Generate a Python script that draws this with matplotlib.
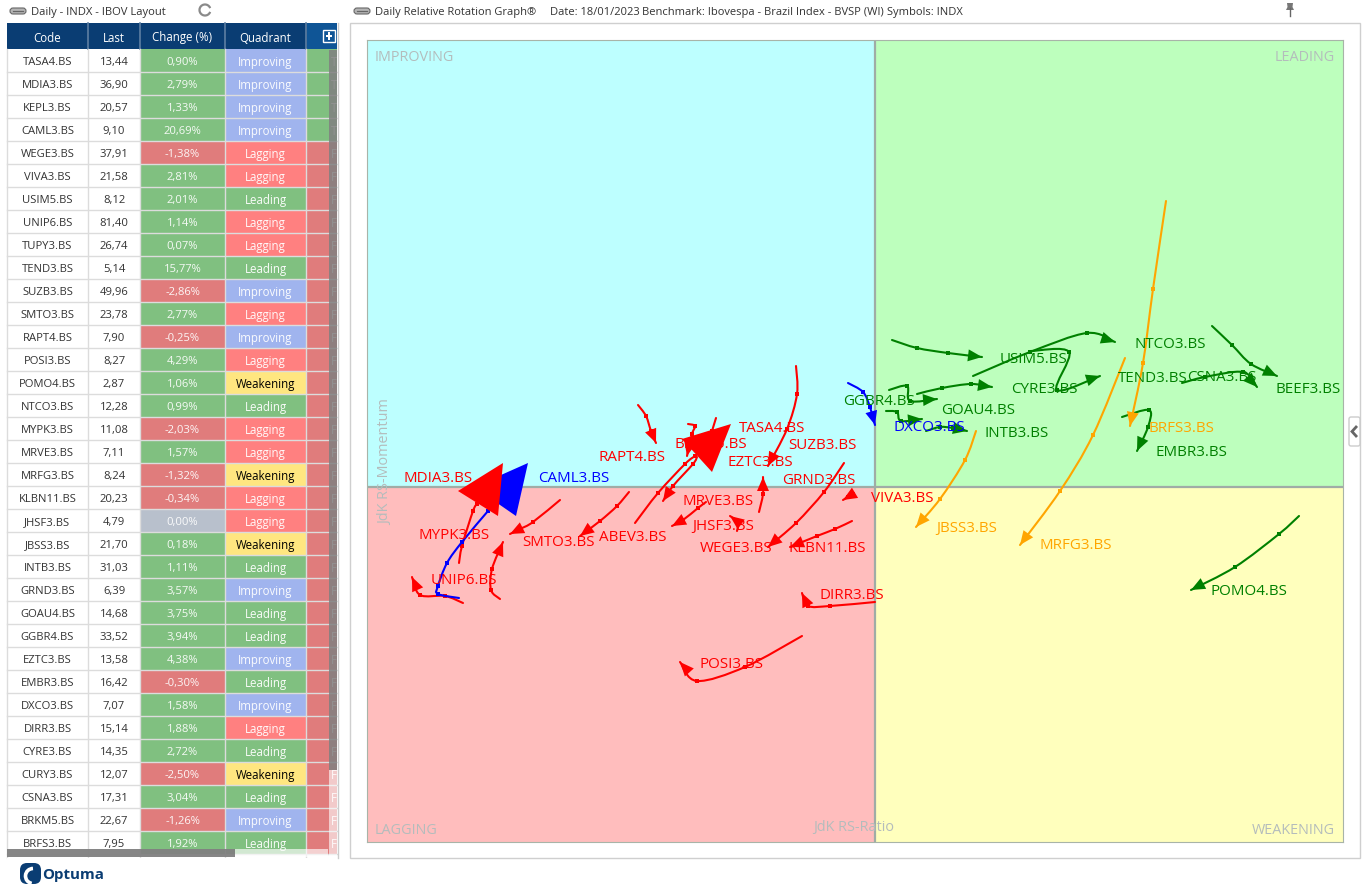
import matplotlib
matplotlib.use("Agg")
import matplotlib.pyplot as plt
from matplotlib.patches import Rectangle, FancyBboxPatch, PathPatch, Arc, Circle, Polygon
from matplotlib.path import Path
import numpy as np

plt.rcParams['font.family'] = ['Open Sans', 'DejaVu Sans']

# ---------- table data ----------
codes = ["TASA4.BS","MDIA3.BS","KEPL3.BS","CAML3.BS","WEGE3.BS","VIVA3.BS","USIM5.BS","UNIP6.BS","TUPY3.BS","TEND3.BS",
         "SUZB3.BS","SMTO3.BS","RAPT4.BS","POSI3.BS","POMO4.BS","NTCO3.BS","MYPK3.BS","MRVE3.BS","MRFG3.BS","KLBN11.BS",
         "JHSF3.BS","JBSS3.BS","INTB3.BS","GRND3.BS","GOAU4.BS","GGBR4.BS","EZTC3.BS","EMBR3.BS","DXCO3.BS","DIRR3.BS",
         "CYRE3.BS","CURY3.BS","CSNA3.BS","BRKM5.BS","BRFS3.BS"]
last = ["13,44","36,90","20,57","9,10","37,91","21,58","8,12","81,40","26,74","5,14",
        "49,96","23,78","7,90","8,27","2,87","12,28","11,08","7,11","8,24","20,23",
        "4,79","21,70","31,03","6,39","14,68","33,52","13,58","16,42","7,07","15,14",
        "14,35","12,07","17,31","22,67","7,95"]
change = [0.90,2.79,1.33,20.69,-1.38,2.81,2.01,1.14,0.07,15.77,
          -2.86,2.77,-0.25,4.29,1.06,0.99,-2.03,1.57,-1.32,-0.34,
          0.00,0.18,1.11,3.57,3.75,3.94,4.38,-0.30,1.58,1.88,
          2.72,-2.50,3.04,-1.26,1.92]
quadrant = ["Improving","Improving","Improving","Improving","Lagging","Lagging","Leading","Lagging","Lagging","Leading",
            "Improving","Lagging","Improving","Lagging","Weakening","Leading","Lagging","Lagging","Weakening","Lagging",
            "Lagging","Weakening","Leading","Improving","Leading","Leading","Improving","Leading","Improving","Lagging",
            "Leading","Weakening","Leading","Improving","Leading"]
flag = ["T"]*4 + ["F"]*31
headers = ["Code","Last","Change (%)","Quadrant"]
title_parts = ["Daily Relative Rotation Graph®","Date: 18/01/2023","Benchmark: Ibovespa - Brazil Index - BVSP (WI)","Symbols: INDX"]

# ---------- RRG labels ----------
label_names = ["MDIA3.BS","CAML3.BS","RAPT4.BS","BRKM5.BS","TASA4.BS","SUZB3.BS","EZTC3.BS","GRND3.BS","VIVA3.BS","MRVE3.BS",
               "JHSF3.BS","SMTO3.BS","ABEV3.BS","MYPK3.BS","UNIP6.BS","WEGE3.BS","KLBN11.BS","DIRR3.BS","POSI3.BS","JBSS3.BS",
               "MRFG3.BS","POMO4.BS","BRFS3.BS","EMBR3.BS","BEEF3.BS","CSNA3.BS","TEND3.BS","NTCO3.BS","USIM5.BS","CYRE3.BS",
               "GOAU4.BS","INTB3.BS","GGBR4.BS","DXCO3.BS"]
label_x = [95.29,96.63,97.24,98.00,98.64,99.13,98.53,99.07,99.96,98.08,
           98.17,96.47,97.24,95.44,95.56,98.25,99.14,99.45,98.25,100.61,
           101.65,103.36,102.74,102.81,104.01,103.12,102.43,102.60,101.25,101.36,
           100.66,101.10,99.68,100.19]
label_y = [100.11,100.11,100.32,100.45,100.61,100.44,100.27,100.09,99.91,99.88,
           99.63,99.47,99.52,99.54,99.09,99.41,99.41,98.94,98.25,99.61,
           99.44,98.98,100.61,100.37,101.00,101.12,101.11,101.45,101.30,101.00,
           100.79,100.56,100.88,100.62]
label_colors = ["red","blue","red","red","red","red","red","red","red","red",
                "red","red","red","red","red","red","red","red","red","orange",
                "orange","green","orange","green","green","green","green","green","green","green",
                "green","green","green","blue"]

# ---------- RRG tails (RS-Ratio, RS-Momentum) ----------
RAPT4 = ([97.63,97.71,97.76,97.81],[100.82,100.71,100.56,100.44])
SMTO3 = ([96.85,96.58,96.45,96.35],[99.87,99.65,99.58,99.53])
UNIP6 = ([96.25,96.16,96.17,96.28],[98.88,98.97,99.18,99.45])
MYPK3 = ([95.88,95.70,95.45,95.37],[98.84,98.91,98.92,99.10])
ABEV3 = ([97.54,97.42,97.25,97.05],[99.95,99.81,99.66,99.51])
MRVE3 = ([98.22,98.18,97.98,97.88],[100.30,100.23,100.01,99.86])
KEPL3 = ([98.31,98.23,98.08,97.97],[99.85,99.79,99.67,99.61])
BRKM5 = ([98.13,98.20,98.17,98.12],[100.63,100.61,100.53,100.31])
SUZB3 = ([99.21,99.22,99.12,98.93],[101.21,100.93,100.58,100.21])
EZTC3 = ([98.84,98.88,98.88],[99.75,99.93,100.10])
GRND3 = ([99.69,99.49,99.21,98.93],[100.24,99.95,99.64,99.40])
KLBN11 = ([99.77,99.60,99.42,99.15],[99.66,99.58,99.51,99.40])
VIVA3 = ([99.79,99.73,99.68],[99.94,99.90,99.87])
JHSF3 = ([98.62,98.63,98.55],[99.56,99.65,99.71])
DIRR3 = ([100.00,99.55,99.33,99.27],[98.85,98.81,98.81,98.94])
POSI3 = ([99.27,98.70,98.22,98.05],[98.51,98.20,98.06,98.25])
DXCO3 = ([99.73,99.88,99.95,100.00],[101.04,100.95,100.80,100.62])
GGBR4 = ([100.14,100.32,100.35,100.62],[100.97,101.01,100.86,100.88])
GOAU4 = ([100.42,100.67,100.96,101.17],[100.93,100.99,101.03,101.00])
USIM5 = ([100.17,100.42,100.73,101.07],[101.47,101.39,101.34,101.30])
NTCO3 = ([100.98,101.55,102.12,102.40],[101.11,101.35,101.54,101.45])
CYRE3 = ([101.56,101.94,101.82,102.25],[101.36,101.35,100.97,101.11])
CURY3 = ([100.11,100.22,100.26,100.47],[100.76,100.75,100.66,100.68])
INTB3 = ([100.51,100.65,100.78,100.92],[100.56,100.60,100.59,100.56])
JBSS3 = ([101.01,100.90,100.65,100.41],[100.56,100.27,99.88,99.60])
MRFG3 = ([102.50,102.18,101.85,101.45],[101.29,100.52,99.96,99.42])
BRFS3 = ([102.91,102.78,102.68,102.55],[102.86,101.98,101.24,100.61])
BEEF3 = ([103.37,103.57,103.76,104.02],[101.61,101.42,101.23,101.11])
CSNA3 = ([103.07,103.30,103.68,103.82],[101.04,101.10,101.15,101.00])
EMBR3 = ([102.47,102.74,102.73,102.62],[100.70,100.77,100.60,100.36])
POMO4 = ([104.24,104.04,103.60,103.16],[99.71,99.53,99.20,98.97])

# tails that end under one of the large arrow heads
CAML3 = ([95.84,95.63,95.63,95.72,95.87,96.13],[98.89,98.93,99.01,99.24,99.45,99.76])
MDIA3 = ([95.84,95.87,95.98,96.02],[99.24,99.41,99.76,99.83])
TASA4 = ([97.60,97.83,98.10,98.20],[99.64,99.94,100.23,100.31])
WEGE3 = ([98.41,98.37],[100.69,100.56])

# large arrow heads
CAML3_head = ([96.53,96.41,95.99],[100.24,99.71,100.00])
MDIA3_head = ([96.28,95.83,96.23],[100.24,99.96,99.71])
TASA4_head = ([98.56,98.07,98.37],[100.63,100.48,100.15])

# ---------- colours ----------
NAVY = "#0a3d73"
C_UP, C_DOWN, C_FLAT = "#80c080", "#e07c7c", "#b8c0cc"
QCOL = {"Improving":"#a0b4ee","Lagging":"#ff8080","Leading":"#80c080","Weakening":"#ffe680"}
FLAGCOL = {"T":C_UP,"F":C_DOWN}

W, H = 1363, 887
fig = plt.figure(figsize=(W/100, H/100), dpi=100, facecolor="white")

# overlay in pixel units for the window furniture and the table
ui = fig.add_axes([0,0,1,1], zorder=1)
ui.set_xlim(0,W); ui.set_ylim(H,0); ui.axis("off")

def rect(x0,y0,x1,y1,fc,ec="none",lw=0,z=1,alpha=None):
    ui.add_patch(Rectangle((x0,y0),x1-x0,y1-y0,facecolor=fc,edgecolor=ec,linewidth=lw,zorder=z,alpha=alpha))

col_edges = [7,88,140,225,306,337]
TOP, HDR, ROW = 24, 50, 23
rect(7,TOP,337,HDR,NAVY)
rect(307,TOP,337,HDR,"#0f5596")
for i,h in enumerate(headers):
    ui.text((col_edges[i]+col_edges[i+1])/2,38,h,color="white",ha="center",va="center",fontsize=8.3,zorder=3)
for x in col_edges[1:5]:
    ui.plot([x,x],[TOP,HDR],color="#5d7fa3",lw=1.2,zorder=2)
# add-column icon
rect(323,31,335,43,"#0f5596",ec="white",lw=1,z=3)
rect(326,36,332,38,"white",z=4); rect(328,33,330,41,"white",z=4)

clip_box = Rectangle((306,HDR),31,809,transform=ui.transData)
for r,(c,l,ch,q,fl) in enumerate(zip(codes,last,change,quadrant,flag)):
    y0 = HDR+r*ROW; y1 = y0+ROW; yc = y0+ROW/2+1
    chcol = C_FLAT if ch==0 else (C_UP if ch>0 else C_DOWN)
    rect(7,y0,140,y1,"white")
    rect(140,y0,225,y1,chcol)
    rect(225,y0,306,y1,QCOL[q])
    rect(306,y0,337,y1,FLAGCOL[fl])
    ui.text(47.5,yc,c,color="#333333",ha="center",va="center",fontsize=8.1,zorder=3)
    ui.text(114,yc,l,color="#333333",ha="center",va="center",fontsize=8.1,zorder=3)
    ui.text(182.5,yc,f"{ch:.2f}%".replace(".",","),color="white",ha="center",va="center",fontsize=8.1,zorder=3,alpha=.92)
    ui.text(265.5,yc,q,color="black" if q=="Weakening" else "white",ha="center",va="center",fontsize=8.3,zorder=3,alpha=.95 if q!="Weakening" else 1)
    t = ui.text(331,yc,fl,color="white",ha="left",va="center",fontsize=8.3,zorder=3,alpha=.9)
    t.set_clip_path(clip_box)
    ui.plot([7,337],[y1,y1],color="#dcdcdc",lw=1,zorder=2)
for x in col_edges[0:5]:
    ui.plot([x,x],[HDR,859],color="#dcdcdc",lw=1,zorder=2)
ui.plot([337.5,337.5],[24,859],color="#cccccc",lw=1,zorder=7)
rect(7,859,338,887,"white",z=5)
# scrollbars
rect(329,51,337,771,"#808080",z=6,alpha=.85)
rect(329,771,337,859,"white",z=6,alpha=.6)
rect(7,850,235,858,"#808080",z=6,alpha=.95)
rect(235,850,328,858,"white",z=6,alpha=.65)

# panel titles
ui.text(31,12.5,"Daily - INDX - IBOV Layout",color="#333333",ha="left",va="center",fontsize=8.1)
for tx,part in zip([375,549.5,641.5,887],title_parts):
    ui.text(tx,12.5,part,color="#333333",ha="left",va="center",fontsize=8.0)
for xc in (18,362):
    ui.add_patch(FancyBboxPatch((xc-8,9),16,6,boxstyle="round,pad=0,rounding_size=3",fc="#b5b5b5",ec="#666666",lw=.8))
    ui.plot([xc-5,xc+5],[12,12],color="#666666",lw=.9)
ui.add_patch(Arc((205,11),11,11,theta1=20,theta2=340,color="#8a8a8a",lw=1.6))
ui.plot([1290,1290],[9,17],color="#666666",lw=1)
ui.add_patch(Polygon([(1287,4),(1293,4),(1292.5,8),(1294,11),(1286,11),(1287.5,8)],fc="#777777",ec="none"))

# chart frame
rect(350,24,1360,859,"white",ec="#cfcfcf",lw=1,z=0)
ui.add_patch(FancyBboxPatch((1349,418),11,29,boxstyle="round,pad=0,rounding_size=2",fc="white",ec="#cccccc",lw=1))
ui.add_patch(Polygon([(1357,427),(1352,432.5),(1357,438)],closed=False,fill=False,ec="#666666",lw=2))

# logo
ui.add_patch(FancyBboxPatch((20,864),21,21,boxstyle="round,pad=0,rounding_size=7",fc=NAVY,ec="none",zorder=8))
ui.add_patch(Arc((33,877),15,15,theta1=100,theta2=270,color="white",lw=2.6,zorder=9))
ui.text(42,875,"Optuma",color=NAVY,ha="left",va="center",fontsize=10.8,fontweight="bold",family="Open Sans",zorder=8)

# ---------- the RRG itself ----------
ax = fig.add_axes([367/W, 1-843/H, 976/W, 802/H], zorder=2)
ax.set_xlim(94.92,104.68); ax.set_ylim(96.45,104.47)
ax.set_xticks([]); ax.set_yticks([])
for s in ax.spines.values():
    s.set_color("#a8b4a8"); s.set_linewidth(.8)
CX, CY = 100, 100
ax.add_patch(Rectangle((94.92,CY),CX-94.92,104.47-CY,fc="#bdffff",ec="none",zorder=0))
ax.add_patch(Rectangle((CX,CY),104.68-CX,104.47-CY,fc="#bdffbd",ec="none",zorder=0))
ax.add_patch(Rectangle((94.92,96.45),CX-94.92,CY-96.45,fc="#ffbdbd",ec="none",zorder=0))
ax.add_patch(Rectangle((CX,96.45),104.68-CX,CY-96.45,fc="#ffffbd",ec="none",zorder=0))
ax.axvline(CX,color="#a0aca6",lw=1.6,zorder=1)
ax.axhline(CY,color="#a0aca6",lw=1.6,zorder=1)

GREY = "#b4bcbc"
ax.text(.008,.979,"IMPROVING",transform=ax.transAxes,color=GREY,fontsize=10.4,ha="left",va="center")
ax.text(.992,.979,"LEADING",transform=ax.transAxes,color=GREY,fontsize=10.4,ha="right",va="center")
ax.text(.008,.0155,"LAGGING",transform=ax.transAxes,color=GREY,fontsize=10.4,ha="left",va="center")
ax.text(.992,.0155,"WEAKENING",transform=ax.transAxes,color=GREY,fontsize=10.4,ha="right",va="center")
ax.text(.4985,.0195,"JdK RS-Ratio",transform=ax.transAxes,color=GREY,fontsize=10.4,ha="center",va="center")
ax.text(.0195,.4755,"JdK RS-Momentum",transform=ax.transAxes,color=GREY,fontsize=10.4,ha="center",va="center",rotation=90)

def smooth_path(x,y):
    p = np.column_stack([x,y])
    verts=[p[0]]; codes_=[Path.MOVETO]
    for i in range(len(p)-1):
        p0 = p[max(i-1,0)]; p1=p[i]; p2=p[i+1]; p3=p[min(i+2,len(p)-1)]
        verts += [p1+(p2-p0)/6, p2-(p3-p1)/6, p2]
        codes_ += [Path.CURVE4]*3
    return Path(verts,codes_)

def tail(series,color,head=True,z=3):
    x,y = series
    ax.add_patch(PathPatch(smooth_path(x,y),fc="none",ec=color,lw=1.5,zorder=z,capstyle="round"))
    ax.plot(x[1:-1] if head else x[1:],y[1:-1] if head else y[1:],ls="none",marker="s",ms=3.2,color=color,mew=0,zorder=z)
    if head:
        d = np.array([x[-1]-x[-2],y[-1]-y[-2]],float); d/=np.hypot(*d)
        n = np.array([-d[1],d[0]])
        tip = np.array([x[-1],y[-1]]); base = tip-.14*d
        tri = np.array([tip,base+.06*n,base-.06*n])
        ax.fill(tri[:,0],tri[:,1],color=color,lw=0,zorder=z)

for s in [RAPT4,SMTO3,UNIP6,MYPK3,ABEV3,MRVE3,KEPL3,BRKM5,SUZB3,EZTC3,GRND3,KLBN11,VIVA3,JHSF3,DIRR3,POSI3]:
    tail(s,"red")
for s in [MDIA3,TASA4,WEGE3]:
    tail(s,"red",head=False)
tail(CAML3,"blue",head=False)
tail(DXCO3,"blue")
for s in [GGBR4,GOAU4,USIM5,NTCO3,CYRE3,CURY3,INTB3,BEEF3,CSNA3,EMBR3,POMO4]:
    tail(s,"green")
for s in [JBSS3,MRFG3,BRFS3]:
    tail(s,"orange")

for name,lx,ly,col in zip(label_names,label_x,label_y,label_colors):
    ax.annotate(name,(lx,ly),xytext=(0,-1),textcoords="offset points",color=col,fontsize=10.9,ha="left",va="center",zorder=4)

ax.fill(*CAML3_head,color="blue",lw=0,zorder=5)
ax.fill(*MDIA3_head,color="red",lw=0,zorder=6)
ax.fill(*TASA4_head,color="red",lw=0,zorder=6)

fig.savefig("out.png",dpi=100,facecolor="white")
